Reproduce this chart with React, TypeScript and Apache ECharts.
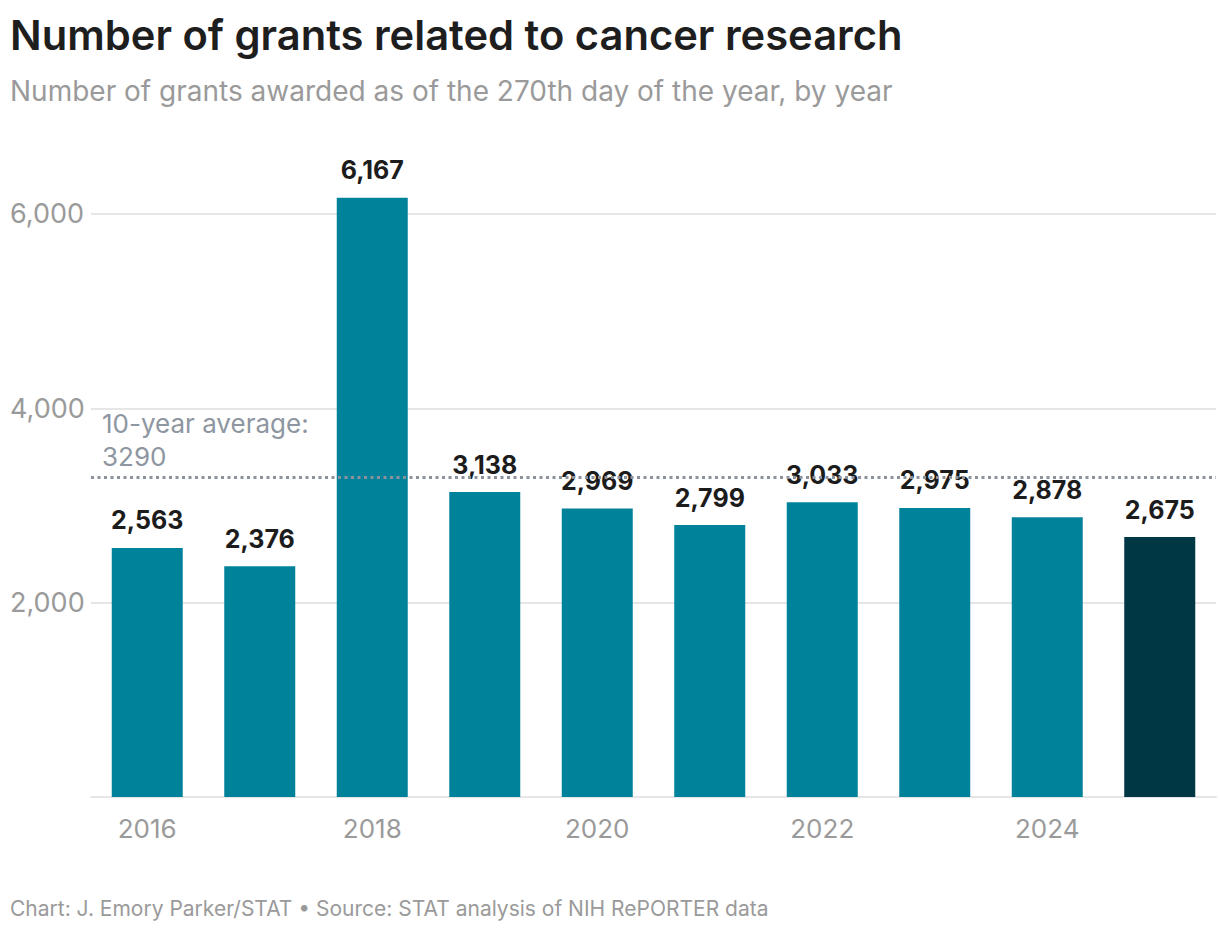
import React, { useEffect, useRef } from "react";
import * as echarts from "echarts";

// Grant counts by year (as of day 270)
const years = ["2016", "2017", "2018", "2019", "2020", "2021", "2022", "2023", "2024", "2025"];
const grants = [2563, 2376, 6167, 3138, 2969, 2799, 3033, 2975, 2878, 2675];
const tenYearAverage = 3290;
const yTicks = [2000, 4000, 6000];

const titleText = "Number of grants related to cancer research";
const subtitleText = "Number of grants awarded as of the 270th day of the year, by year";
const footerText = "Chart: J. Emory Parker/STAT \u2022 Source: STAT analysis of NIH RePORTER data";

const TEAL = "#00839a";
const DARK = "#003745";
const FONT = "Inter, 'Noto Sans', sans-serif";

export default function App() {
  const ref = useRef<HTMLDivElement>(null);

  useEffect(() => {
    if (!ref.current) return;
    const chart = echarts.init(ref.current, undefined, { renderer: "svg" });
    const fmt = (v: number) => v.toLocaleString("en-US");

    chart.setOption({
      animation: false,
      textStyle: { fontFamily: FONT },
      grid: { left: 91, right: 4, top: 165.4, bottom: 137 },
      graphic: [
        {
          type: "text",
          left: 10,
          top: 14,
          style: { text: titleText, font: `600 41.7px ${FONT}`, fill: "#1e1e1e" },
        },
        {
          type: "text",
          left: 10,
          top: 77,
          style: { text: subtitleText, font: `400 28px ${FONT}`, fill: "#9a9a9a" },
        },
        {
          type: "text",
          left: 10,
          top: 898,
          style: { text: footerText, font: `400 21px ${FONT}`, fill: "#9a9a9a" },
        },
      ],
      xAxis: {
        type: "category",
        data: years,
        axisLine: { lineStyle: { color: "#e6e6e6", width: 2 } },
        axisTick: { show: false },
        axisLabel: {
          interval: 1,
          color: "#9a9a9a",
          fontSize: 26,
          fontFamily: FONT,
          margin: 18,
        },
      },
      yAxis: {
        type: "value",
        min: 0,
        max: 6500,
        interval: 2000,
        axisLine: { show: false },
        axisTick: { show: false },
        axisLabel: {
          showMaxLabel: false,
          align: "left",
          margin: 81,
          color: "#9a9a9a",
          fontSize: 27,
          fontFamily: FONT,
          formatter: (v: number) => (yTicks.includes(v) ? fmt(v) : ""),
        },
        splitLine: {
          showMaxLine: false,
          lineStyle: { color: "#e6e6e6", width: 2 },
        },
      },
      series: [
        {
          type: "bar",
          barWidth: 71,
          data: grants.map((v, i) => ({
            value: v,
            itemStyle: { color: i === grants.length - 1 ? DARK : TEAL },
          })),
          label: {
            show: true,
            position: "top",
            distance: 15,
            color: "#1c1c1c",
            fontSize: 25,
            fontWeight: 700,
            fontFamily: FONT,
            formatter: (p: any) => fmt(p.value),
          },
          markLine: {
            silent: true,
            symbol: "none",
            data: [{ yAxis: tenYearAverage }],
            lineStyle: { color: "#8b929c", width: 3, type: [3, 3.5] },
            label: {
              position: "insideStartTop",
              distance: [11, 4],
              formatter: `10-year average:\n${tenYearAverage}`,
              color: "#8d96a1",
              fontSize: 26,
              lineHeight: 33,
              fontFamily: FONT,
            },
          },
        },
      ],
    });

    return () => chart.dispose();
  }, []);

  return (
    <div
      ref={ref}
      style={{ position: "absolute", left: 0, top: 0, width: 1220, height: 934 }}
    />
  );
}
